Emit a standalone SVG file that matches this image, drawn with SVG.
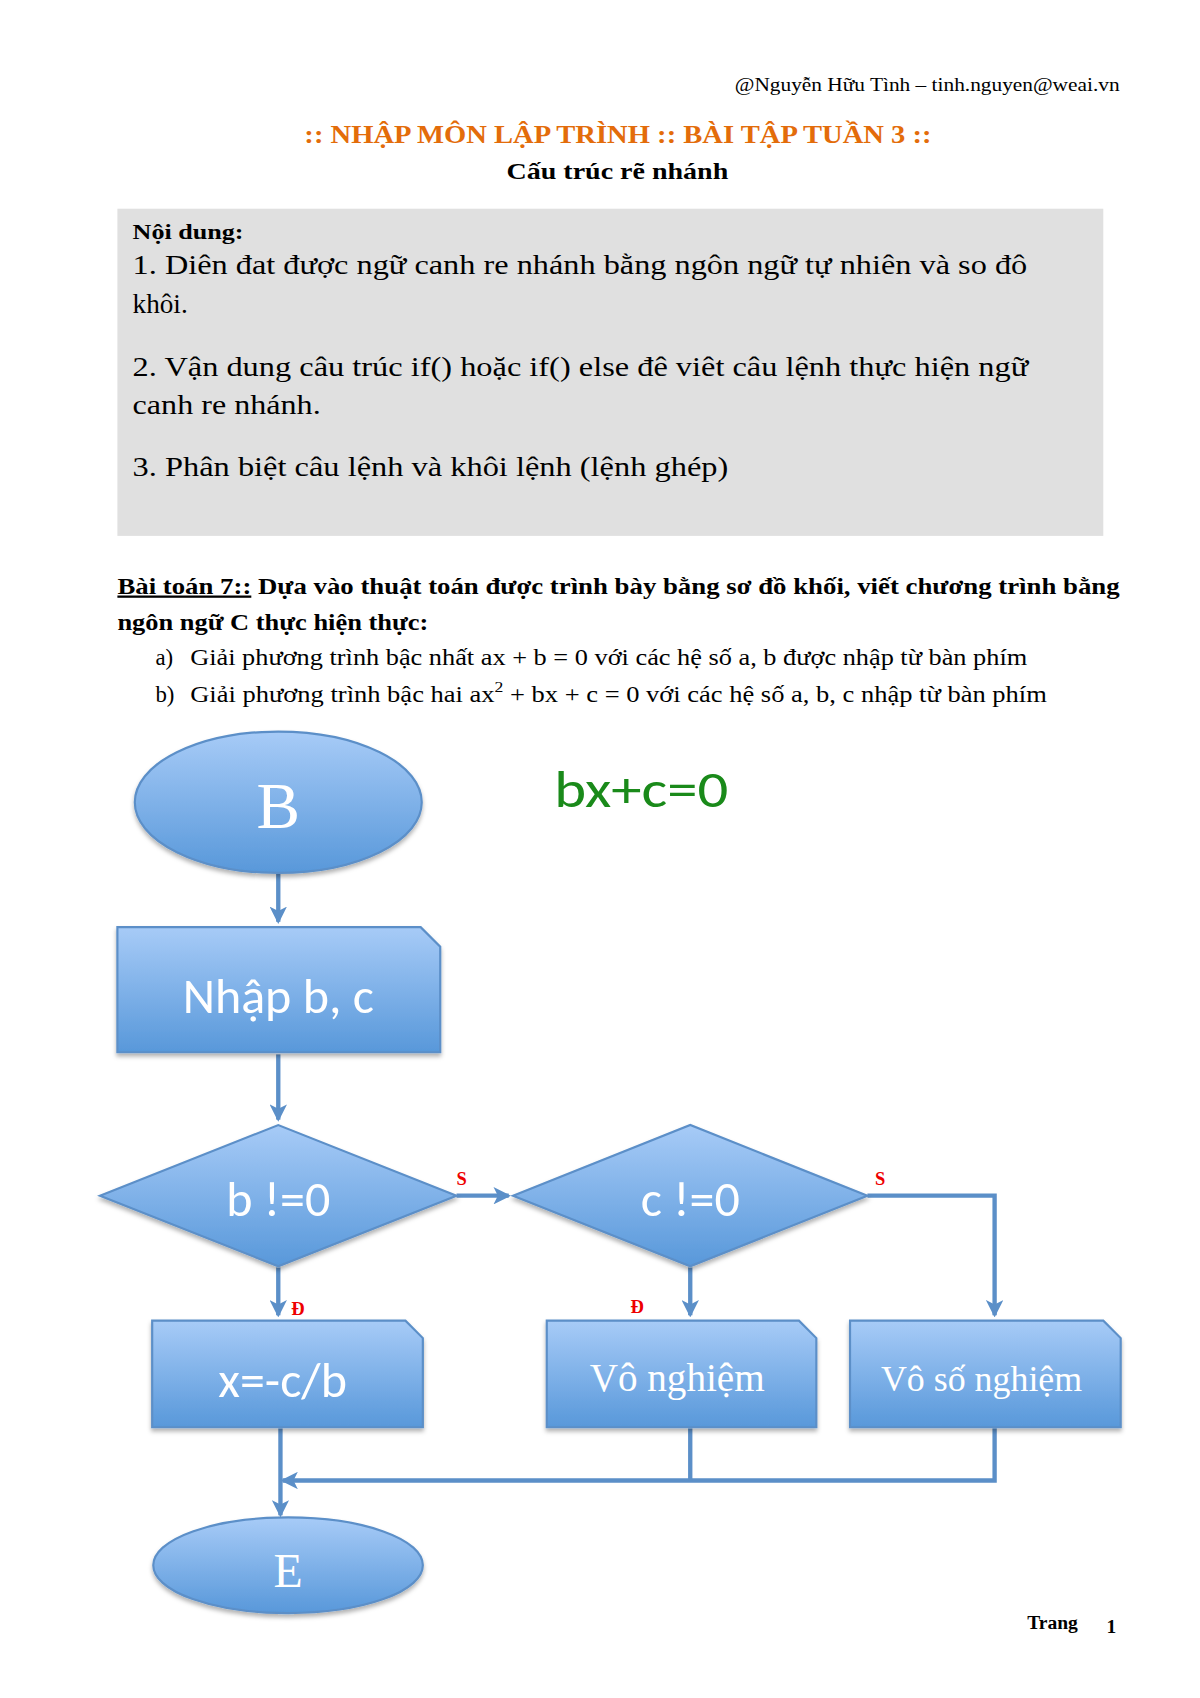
<svg xmlns="http://www.w3.org/2000/svg" width="1200" height="1698" viewBox="0 0 1200 1698">
<style>
.s{font-family:"Liberation Serif",serif;fill:#000}
.b{font-weight:bold}
.w{fill:#fff;text-anchor:middle}
.sh{fill:url(#g);stroke:#5b8fc8;stroke-width:2;filter:url(#ds)}
.c{fill:none;stroke:#5b8fc8;stroke-width:4}
.r{font-family:"Liberation Serif",serif;font-weight:bold;fill:#e00;font-size:17px}
</style>
<defs>
<linearGradient id="g" x1="0" y1="0" x2="0" y2="1"><stop offset="0" stop-color="#a7cbf7"/><stop offset="1" stop-color="#5898da"/></linearGradient>
<filter id="ds" x="-10%" y="-10%" width="120%" height="130%"><feDropShadow dx="0" dy="3" stdDeviation="2" flood-color="#000" flood-opacity="0.3"/></filter>
<marker id="ah" markerWidth="16" markerHeight="16" refX="14" refY="8" orient="auto" markerUnits="userSpaceOnUse" viewBox="0 0 16 16"><path d="M0,0 L16,8 L0,16 L4,8 Z" fill="#5b8fc8"/></marker>
</defs>
<rect width="1200" height="1698" fill="#fff"/>
<g transform="scale(1.087)">
<text class="s" x="676" y="84" font-size="18" textLength="354" lengthAdjust="spacingAndGlyphs">@Nguyễn Hữu Tình – tinh.nguyen@weai.vn</text>
<text class="s b" x="280" y="132" font-size="23" textLength="577" lengthAdjust="spacingAndGlyphs" style="fill:#e36c0a">:: NHẬP MÔN LẬP TRÌNH :: BÀI TẬP TUẦN 3 ::</text>
<text class="s b" x="466" y="165" font-size="22" textLength="204" lengthAdjust="spacingAndGlyphs">Cấu trúc rẽ nhánh</text>
<rect x="108" y="192" width="907" height="301" fill="#e0e0e0"/>
<text class="s b" x="122" y="220" font-size="20" textLength="102" lengthAdjust="spacingAndGlyphs">Nội dung:</text>
<text class="s" x="122" y="252" font-size="25" textLength="823" lengthAdjust="spacingAndGlyphs">1. Diên đat được ngữ canh re nhánh bằng ngôn ngữ tự nhiên và so đô</text>
<text class="s" x="122" y="288" font-size="25">khôi.</text>
<text class="s" x="122" y="346" font-size="25" textLength="824" lengthAdjust="spacingAndGlyphs">2. Vận dung câu trúc if() hoặc if() else đê viêt câu lệnh thực hiện ngữ</text>
<text class="s" x="122" y="381" font-size="25" textLength="173" lengthAdjust="spacingAndGlyphs">canh re nhánh.</text>
<text class="s" x="122" y="438" font-size="25" textLength="548" lengthAdjust="spacingAndGlyphs">3. Phân biệt câu lệnh và khôi lệnh (lệnh ghép)</text>
<text class="s b" x="108" y="546" font-size="21" textLength="922" lengthAdjust="spacingAndGlyphs"><tspan text-decoration="underline">Bài toán 7::</tspan> Dựa vào thuật toán được trình bày bằng sơ đồ khối, viết chương trình bằng</text>
<text class="s b" x="108" y="580" font-size="21" textLength="286" lengthAdjust="spacingAndGlyphs">ngôn ngữ C thực hiện thực:</text>
<text class="s" x="143" y="612" font-size="21">a)</text>
<text class="s" x="175" y="612" font-size="21" textLength="770" lengthAdjust="spacingAndGlyphs">Giải phương trình bậc nhất ax + b = 0 với các hệ số a, b được nhập từ bàn phím</text>
<text class="s" x="143" y="646" font-size="21">b)</text>
<text class="s" x="175" y="646" font-size="21" textLength="788" lengthAdjust="spacingAndGlyphs">Giải phương trình bậc hai  ax<tspan dy="-9" font-size="14">2</tspan><tspan dy="9"> + bx + c = 0 với các hệ số a, b, c nhập từ bàn phím</tspan></text>
<text x="510" y="742" font-family="Carlito,'Liberation Sans',sans-serif" font-size="48" fill="#1a8a1a" textLength="160" lengthAdjust="spacingAndGlyphs">bx+c=0</text>

<g id="connectors">
<path class="c" d="M256,804 V848" marker-end="url(#ah)"/>
<path class="c" d="M256,970 V1030" marker-end="url(#ah)"/>
<path class="c" d="M420,1100 H468" marker-end="url(#ah)"/>
<path class="c" d="M798,1100 H915 V1210" marker-end="url(#ah)"/>
<path class="c" d="M256,1166 V1210" marker-end="url(#ah)"/>
<path class="c" d="M635,1166 V1210" marker-end="url(#ah)"/>
<path class="c" d="M915,1314 V1362 H260" marker-end="url(#ah)"/>
<path class="c" d="M635,1314 V1362"/>
<path class="c" d="M258,1314 V1394" marker-end="url(#ah)"/>
<text class="r" x="420" y="1090">S</text>
<text class="r" x="805" y="1090">S</text>
<text class="r" x="268" y="1210">Đ</text>
<text class="r" x="580" y="1208">Đ</text>
</g>

<g id="nB"><ellipse class="sh" cx="256" cy="738" rx="132" ry="65"/><text class="s w" x="256" y="762" font-size="60" style="fill:#fff">B</text></g>
<g id="nInput"><path class="sh" d="M108,853 H387 L405,871 V968 H108 Z"/><text class="w" x="256" y="932" font-family="Carlito,'Liberation Sans',sans-serif" font-size="46">Nhập b, c</text></g>
<g id="nB0"><path class="sh" d="M92,1100 L256,1035 L420,1100 L256,1165 Z"/><text class="w" x="256" y="1119" font-family="Carlito,'Liberation Sans',sans-serif" font-size="46">b !=0</text></g>
<g id="nC0"><path class="sh" d="M472,1100 L635,1035 L798,1100 L635,1165 Z"/><text class="w" x="635" y="1119" font-family="Carlito,'Liberation Sans',sans-serif" font-size="46">c !=0</text></g>
<g id="nX"><path class="sh" d="M140,1215 H373 L389,1231 V1313 H140 Z"/><text class="w" x="260" y="1285" font-family="Carlito,'Liberation Sans',sans-serif" font-size="46">x=-c/b</text></g>
<g id="nVN"><path class="sh" d="M503,1215 H735 L751,1231 V1313 H503 Z"/><text class="s w" x="623" y="1280" font-size="36" style="fill:#fff">Vô nghiệm</text></g>
<g id="nVSN"><path class="sh" d="M782,1215 H1015 L1031,1231 V1313 H782 Z"/><text class="s w" x="903" y="1280" font-size="33" style="fill:#fff">Vô số nghiệm</text></g>
<g id="nE"><ellipse class="sh" cx="265" cy="1440" rx="124" ry="44"/><text class="s w" x="265" y="1460" font-size="44" style="fill:#fff">E</text></g>

<text class="s b" x="945" y="1499" font-size="18">Trang</text>
<text class="s b" x="1018" y="1502" font-size="18">1</text>
</g>
</svg>
